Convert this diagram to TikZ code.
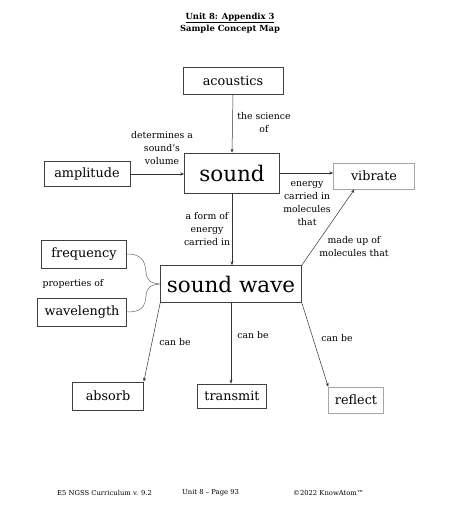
\documentclass[tikz,border=0pt]{standalone}
\usepackage{fontspec}
\setmainfont{DejaVu Serif}
\usetikzlibrary{arrows.meta,calc}
\begin{document}
\begin{tikzpicture}[x=1pt,y=-1pt,
  box/.style={draw=black!75,line width=0.6pt,inner sep=0pt,align=center,font=\fontsize{12.8}{15}\selectfont},
  lightbox/.style={box,draw=black!35},
  bigbox/.style={box,font=\fontsize{21.5}{26}\selectfont},
  lbl/.style={inner sep=0pt,align=center,font=\fontsize{9.3}{13}\selectfont},
  arr/.style={-{Stealth[length=4pt,width=3pt]},line width=0.5pt,draw=black!80},
  foot/.style={inner sep=0pt,font=\fontsize{6.8}{10}\selectfont}]
\useasboundingbox (0,0) rectangle (454,505);
% title
\node[inner sep=0pt,font=\bfseries\fontsize{8.4}{12}\selectfont,align=center] (title) at (230,23) {\underline{Unit 8: Appendix 3}\\Sample Concept Map};
% boxes
\node[box,minimum width=100pt,minimum height=27pt] (acoustics) at (233,81) {acoustics};
\node[bigbox,minimum width=95pt,minimum height=40pt] (sound) at (232,173) {sound};
\node[box,minimum width=86pt,minimum height=25pt] (amplitude) at (87,174) {amplitude};
\node[lightbox,minimum width=81pt,minimum height=26pt] (vibrate) at (374,176) {vibrate};
\node[box,minimum width=85pt,minimum height=28pt] (frequency) at (84,254) {frequency};
\node[bigbox,minimum width=141pt,minimum height=37pt] (soundwave) at (231,284) {sound wave};
\node[box,minimum width=89pt,minimum height=28pt] (wavelength) at (82,312) {wavelength};
\node[box,minimum width=71pt,minimum height=28pt] (absorb) at (108,396) {absorb};
\node[box,minimum width=69pt,minimum height=24pt] (transmit) at (232,396) {transmit};
\node[lightbox,minimum width=55pt,minimum height=26pt] (reflect) at (356,400) {reflect};
% connectors
\draw[arr] (acoustics.south) -- (sound.north);
\draw[arr] (amplitude.east) -- (amplitude.east -| sound.west);
\draw[arr] (sound.east) -- (sound.east -| vibrate.west);
\draw[arr] (sound.south) -- (sound.south |- soundwave.north);
\coordinate (vb) at ($(vibrate.south west)!0.26!(vibrate.south east)$);
\draw[arr] (soundwave.north east) -- (vb);
\draw[arr] (soundwave.south west) -- (absorb.north east);
\draw[arr] (soundwave.south) -- (soundwave.south |- transmit.north);
\draw[arr] (soundwave.south east) -- (reflect.north west);
% brace
\coordinate (tip) at (soundwave.west);
\draw[line width=0.5pt,draw=black!60] (frequency.east) .. controls ++(14,0) and (145,260) .. (146,272)
   .. controls (147,281) and (150,283) .. (tip)
   .. controls (150,285) and (147,287) .. (146,296)
   .. controls (145,308) and ($(wavelength.east)+(14,0)$) .. (wavelength.east);
% labels
\node[lbl] (l1) at (264,123) {the science\\of};
\node[lbl] (l2) at (162,148) {determines a\\sound's\\volume};
\node[lbl] (l3) at (307,204) {energy\\carried in\\molecules\\that};
\node[lbl] (l4) at (207,229) {a form of\\energy\\carried in};
\node[lbl] (l5) at (354,247) {made up of\\molecules that};
\node[lbl] (l6) at (73,284) {properties of};
\node[lbl] (l7) at (175,342) {can be};
\node[lbl] (l8) at (253,335) {can be};
\node[lbl] (l9) at (337,338) {can be};
% footer
\node[foot,anchor=west] (f1) at (57,493) {E5 NGSS Curriculum v. 9.2};
\node[foot,anchor=west] (f2) at (182,493) {Unit 8 – Page 93};
\node[foot,anchor=west] (f3) at (293,493) {©2022 KnowAtom™};
\end{tikzpicture}
\end{document}
